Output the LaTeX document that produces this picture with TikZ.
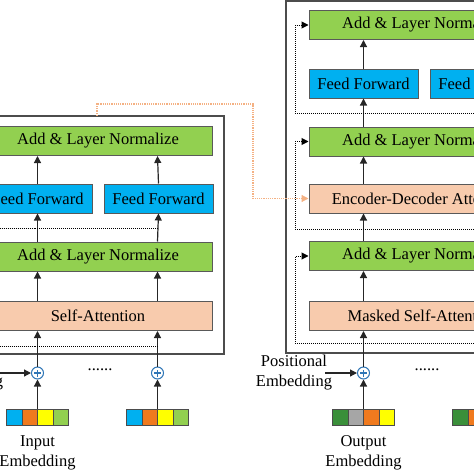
\documentclass[tikz,border=0pt]{standalone}
\usepackage{fontspec}
\setmainfont{Liberation Serif}
\usetikzlibrary{arrows.meta, positioning, calc}

\definecolor{addgreen}{HTML}{92D050}
\definecolor{ffblue}{HTML}{00B0F0}
\definecolor{attpeach}{HTML}{F8CBAD}
\definecolor{emborange}{HTML}{F07A1E}
\definecolor{embyellow}{HTML}{FFFF00}
\definecolor{embdark}{HTML}{3A8F3A}
\definecolor{embgray}{HTML}{A6A6A6}
\definecolor{crossline}{HTML}{F4B183}
\definecolor{sumblue}{HTML}{2E75B6}

\tikzset{
  txt/.style={font=\fontsize{16.5}{20}\selectfont},
  block/.style={txt, draw=black!65, line width=1pt, minimum width=228pt,
    minimum height=29pt, inner sep=0pt},
  addnorm/.style={block, fill=addgreen},
  ffbox/.style={block, fill=ffblue, minimum width=109pt},
  attbox/.style={block, fill=attpeach},
  frame/.style={draw=black!70, line width=1.5pt},
  link/.style={->, draw=black!85, line width=1.2pt},
  resid/.style={->, densely dotted, line width=1pt},
  crossflow/.style={->, crossline, densely dotted, line width=1.2pt},
  cell/.style={draw=black!70, line width=0.8pt},
  caption/.style={txt, align=center, inner sep=0pt},
  sumop/.style={circle, draw=sumblue, line width=1pt, fill=white,
    minimum size=12pt, inner sep=0pt,
    path picture={
      \draw[sumblue, line width=1.2pt]
        ([xshift=-3.5pt]path picture bounding box.center) -- ([xshift=3.5pt]path picture bounding box.center)
        ([yshift=-3.5pt]path picture bounding box.center) -- ([yshift=3.5pt]path picture bounding box.center);
    }},
}

\begin{document}
\begin{tikzpicture}[x=1pt, y=-1pt, >={Triangle[length=7pt,width=7pt]}]
  \useasboundingbox (0,0) rectangle (474,474);
  \clip (0,0) rectangle (474,474);

  % encoder
  \draw[frame] (-40,116) rectangle (224,354);
  \coordinate (encout) at (97,116);
  \node[addnorm] (eaddt) at (98,141) {Add \& Layer Normalize};
  \node[ffbox] (effa) at (37.5,198.5) {Feed Forward};
  \node[ffbox, right=11pt of effa] (effb) {Feed Forward};
  \node[addnorm] (eaddb) at (98,256.5) {Add \& Layer Normalize};
  \node[attbox] (esa) at (98,316) {Self-Attention};

  \node[sumop] (suma) at (37.5,373) {};
  \node[sumop] (sumb) at (157.5,373) {};
  \node[txt] (edots) at (100,370) {......};

  \foreach \c [count=\i from 0] in {ffblue, emborange, embyellow, addgreen}
    \draw[cell, fill=\c] (6.5+15.5*\i,409) rectangle ++(15.5,16);
  \foreach \c [count=\i from 0] in {ffblue, emborange, embyellow, addgreen}
    \draw[cell, fill=\c] (126.5+15.5*\i,409) rectangle ++(15.5,16);
  \coordinate (bara) at (37.5,409);
  \coordinate (barb) at (157.5,409);
  \node[caption] (inlab) at (37.5,453) {Input\\Embedding};

  \node[caption] (posa) at (-35,373) {Positional\\Embedding};
  \draw[link] ([xshift=-7pt]posa.east) -- (suma.west);

  \foreach \col in {a,b} {
    \draw[link] (bar\col) -- (sum\col.south);
    \draw[link] (sum\col.north) -- (esa.south -| sum\col);
    \draw[link] (esa.north -| sum\col) -- (eaddb.south -| sum\col);
    \draw[link] (eaddb.north -| sum\col) -- (eff\col.south);
    \draw[link] (eff\col.north) -- (eaddt.south -| sum\col);
  }
  \draw[resid] (157.5,346) -| (-25,256.5) -- (eaddb.west);
  \draw[resid] (157.5,228) -| (-25,141) -- (eaddt.west);

  % decoder
  \draw[frame] (286,1) rectangle (620,353);
  \node[addnorm] (dadda) at (423,25) {Add \& Layer Normalize};
  \node[ffbox] (dffa) at (363.5,83.5) {Feed Forward};
  \node[ffbox, right=11pt of dffa] (dffb) {Feed Forward};
  \node[addnorm] (daddb) at (423,141.5) {Add \& Layer Normalize};
  \node[attbox] (dcross) at (423,198.5) {Encoder-Decoder Attention};
  \node[addnorm] (daddc) at (423,256) {Add \& Layer Normalize};
  \node[attbox] (dmsa) at (423,316) {Masked Self-Attention};

  \node[sumop] (sumc) at (363.5,373) {};
  \node[sumop] (sumd) at (483.5,373) {};
  \node[txt] (ddots) at (427,370) {......};

  \foreach \c [count=\i from 0] in {embdark, embgray, emborange, embyellow}
    \draw[cell, fill=\c] (332.5+15.5*\i,409) rectangle ++(15.5,16);
  \foreach \c [count=\i from 0] in {embdark, emborange, embgray, embyellow}
    \draw[cell, fill=\c] (452.5+15.5*\i,409) rectangle ++(15.5,16);
  \coordinate (barc) at (363.5,409);
  \coordinate (bard) at (483.5,409);
  \node[caption] (outlab) at (363.5,453) {Output\\Embedding};

  \node[caption] (posc) at (294,373) {Positional\\Embedding};
  \draw[link] ([xshift=-7pt]posc.east) -- (sumc.west);

  \foreach \col/\ff in {c/dffa, d/dffb} {
    \draw[link] (bar\col) -- (sum\col.south);
    \draw[link] (sum\col.north) -- (dmsa.south -| sum\col);
    \draw[link] (dmsa.north -| sum\col) -- (daddc.south -| sum\col);
    \draw[link] (daddc.north -| sum\col) -- (dcross.south -| sum\col);
    \draw[link] (dcross.north -| sum\col) -- (daddb.south -| sum\col);
    \draw[link] (daddb.north -| sum\col) -- (\ff.south);
    \draw[link] (\ff.north) -- (dadda.south -| sum\col);
  }
  \draw[resid] (483.5,343) -| (295,256) -- (daddc.west);
  \draw[resid] (483.5,229) -| (295,141.5) -- (daddb.west);
  \draw[resid] (483.5,113) -| (295,25) -- (dadda.west);

  % encoder output into the decoder
  \draw[crossflow] (encout) -- ++(0,-12) -| (253,198.5) -- (dcross.west);
\end{tikzpicture}
\end{document}
